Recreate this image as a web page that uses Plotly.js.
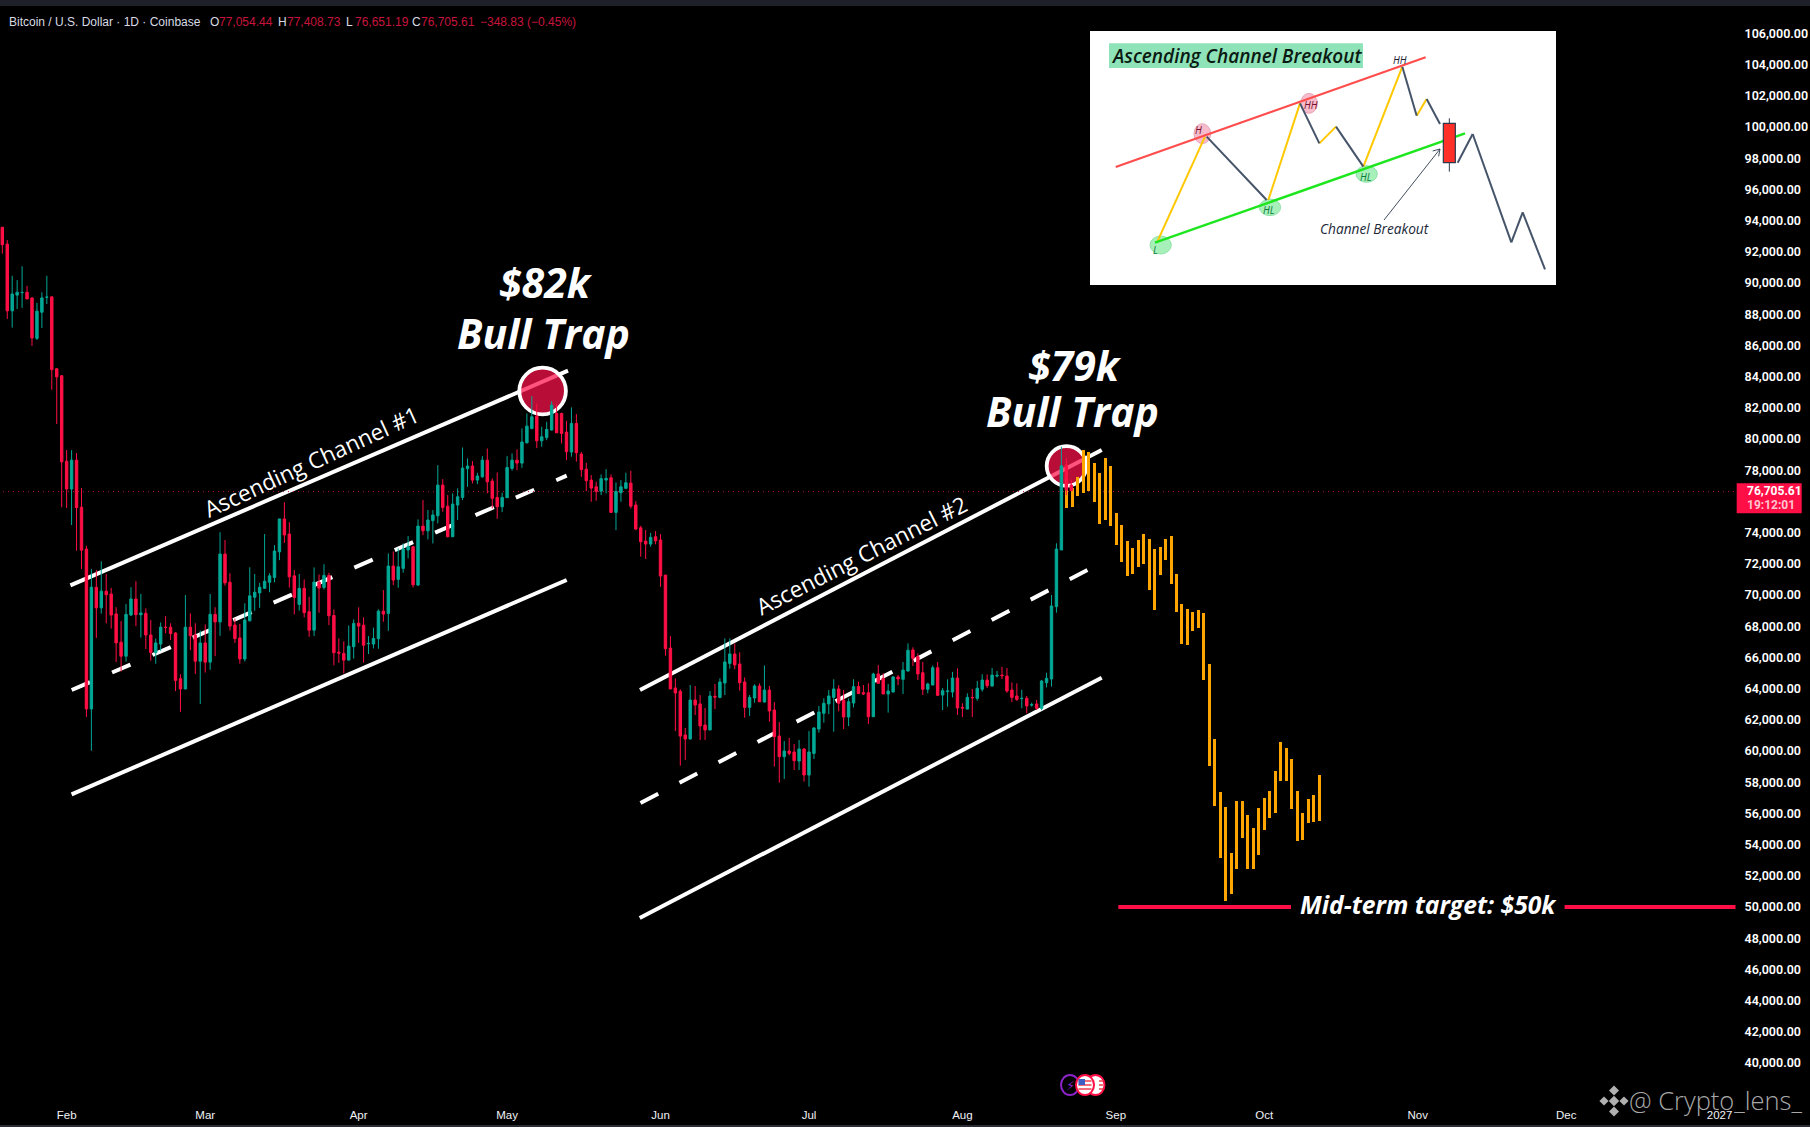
<!DOCTYPE html>
<html><head><meta charset="utf-8">
<script src="https://cdn.plot.ly/plotly-3.0.1.min.js"></script>
<style>html,body{margin:0;padding:0;background:#000}#c{width:1810px;height:1127px}</style>
</head><body><div id="c"></div>
<script>
// ---- data (USD thousands) ----
const opens=[93.58,92.50,88.22,89.23,89.39,89.41,89.05,86.46,88.13,89.09,
89.12,84.51,84.06,78.58,76.80,78.65,75.63,72.95,62.70,70.50,
69.18,70.25,70.07,68.79,66.98,66.08,68.72,69.75,68.74,68.83,
67.44,66.31,66.86,67.94,67.94,67.57,64.64,63.98,67.94,67.44,
65.76,66.93,65.70,68.76,68.28,72.63,70.82,68.08,67.25,65.90,
68.35,69.86,70.14,70.43,70.82,71.12,72.77,74.88,73.91,71.23,
69.40,70.43,68.93,67.75,70.83,70.49,71.26,68.69,66.34,66.26,
65.83,66.69,68.20,68.07,66.88,66.86,67.20,68.97,68.82,71.86,
71.00,71.71,72.89,73.10,70.64,74.42,74.12,74.77,75.08,77.05,
75.70,73.74,75.77,76.26,78.10,78.27,77.37,77.58,78.65,77.31,
76.26,75.66,76.24,78.12,78.65,78.46,79.76,80.68,81.47,79.89,
80.10,80.58,81.64,81.64,80.45,79.17,81.00,79.04,78.07,77.37,
76.94,76.66,77.37,77.52,75.30,76.56,76.84,77.18,75.77,74.31,
73.46,73.27,73.74,73.53,71.28,66.60,
64.04,63.83,61.03,60.77,63.27,63.02,61.67,61.35,
63.51,63.44,64.36,65.62,66.22,65.58,64.43,62.80,63.40,64.17,
63.14,63.91,62.63,60.96,59.64,60.00,59.94,59.36,60.13,58.46,
59.85,61.41,62.42,63.02,63.44,63.98,63.27,62.18,63.08,64.13,
63.74,63.74,62.20,64.94,64.66,63.66,63.78,64.75,64.60,65.13,
66.48,66.05,65.02,63.96,64.23,65.34,63.59,63.81,63.78,64.68,
62.80,62.69,63.44,63.38,63.96,64.55,64.17,64.81,64.87,64.81,
63.91,63.53,63.36,63.38,62.95,63.02,62.74,64.38,64.62,69.26,
72.89,78.34,77.05444];
const closes=[92.46,88.22,89.30,89.41,89.40,88.98,86.48,88.20,89.05,89.10,
84.45,83.99,78.54,76.80,78.65,75.61,72.88,62.70,70.50,69.18,
70.25,70.02,68.72,66.93,66.08,68.76,69.75,68.74,68.85,67.44,
66.31,66.93,67.94,67.92,67.53,64.53,63.98,67.94,67.39,65.76,
66.93,65.70,68.76,68.28,72.63,70.78,68.01,67.21,65.90,68.40,
69.95,70.18,70.50,70.89,71.23,72.82,74.88,73.85,71.17,69.84,
70.43,68.87,67.75,70.83,70.45,71.26,68.67,66.30,66.28,65.83,
66.73,68.18,68.01,66.79,66.90,67.22,68.97,68.78,71.86,70.96,
71.81,72.95,73.10,70.66,74.42,74.12,74.81,75.13,77.05,75.62,
73.74,75.83,76.30,78.14,78.27,77.37,77.63,78.65,77.26,76.20,
75.66,76.26,78.18,78.65,78.46,79.81,80.83,81.43,79.89,80.15,
80.62,82.18,80.40,80.36,79.19,81.00,79.12,78.05,77.33,76.86,
76.64,77.46,77.48,75.30,76.64,76.94,77.20,75.70,74.23,73.42,
73.27,73.70,73.48,71.22,66.56,63.98,
63.72,60.96,60.77,63.27,62.95,61.61,61.35,63.53,
63.46,64.43,65.71,66.22,65.52,64.38,62.80,63.44,64.17,63.16,
63.91,62.57,60.92,59.64,60.00,59.85,59.38,60.13,58.46,59.94,
61.48,62.50,63.06,63.53,63.98,63.06,62.18,63.16,64.13,63.68,
63.66,62.20,64.94,64.34,63.66,63.85,64.75,64.62,65.19,66.46,
65.94,64.94,63.96,64.30,65.34,63.57,63.87,63.85,64.68,62.76,
62.76,63.44,63.42,64.02,64.55,64.19,64.87,64.85,64.83,63.85,
63.44,63.31,63.38,62.89,62.97,62.74,64.49,64.66,69.30,72.95,
78.29,76.73,76.70561];
const highs=[93.58,92.76,90.47,90.19,91.08,89.83,89.09,88.73,89.41,90.47,
89.14,84.56,84.10,79.29,79.29,79.11,76.87,73.16,71.67,71.60,
72.17,71.35,70.46,69.22,68.33,69.43,70.50,70.89,70.07,69.15,
68.40,67.21,68.24,68.65,68.19,67.62,64.92,70.00,68.83,68.19,
67.73,68.12,70.07,69.22,74.03,73.53,71.40,68.49,68.15,69.47,
71.78,71.35,70.78,73.91,71.40,73.20,74.88,75.95,74.67,71.60,
71.35,71.00,69.89,71.77,71.32,71.98,71.43,69.08,67.22,67.03,
68.05,68.44,69.21,68.57,67.37,67.91,69.08,70.32,72.67,72.80,
72.99,73.31,73.78,73.10,74.85,76.09,75.45,75.45,78.33,77.43,
76.41,76.52,76.84,79.46,78.76,78.59,77.84,78.91,79.40,77.48,
77.86,76.56,78.91,79.08,79.34,80.68,81.64,82.75,82.28,80.79,
81.11,82.43,82.28,81.69,81.17,82.03,81.60,79.17,78.48,77.69,
77.26,77.73,78.07,77.73,77.22,77.37,77.84,77.97,76.02,74.44,
74.17,73.99,74.10,73.91,71.28,67.37,
64.66,63.96,61.48,64.23,64.17,63.59,62.76,63.85,
64.30,64.66,67.22,67.22,66.90,66.33,64.72,63.59,64.28,64.34,
65.49,64.17,63.14,61.86,60.64,60.84,60.45,60.71,60.19,61.28,
61.52,62.89,63.38,63.91,64.60,64.23,63.91,63.38,64.60,64.45,
64.23,64.34,65.02,65.52,64.98,64.30,64.81,64.87,65.71,66.90,
66.65,66.26,65.71,64.38,65.49,65.71,64.04,64.60,65.07,65.30,
63.06,63.70,63.98,64.49,64.92,64.92,65.32,65.13,65.39,65.32,
64.40,64.34,63.93,63.53,63.10,63.27,64.55,65.02,70.00,73.32,
79.51,78.76,77.40873];
const lows=[91.89,87.70,87.15,88.34,88.41,88.98,85.98,86.35,87.12,88.66,
83.16,80.97,75.63,75.58,74.49,72.84,71.67,62.19,60.02,67.25,
68.81,68.19,67.85,65.70,65.10,65.74,68.65,68.01,67.27,66.54,
65.79,65.60,66.43,67.55,67.12,63.84,62.51,63.96,66.47,64.94,
63.02,65.03,65.21,66.08,67.39,70.60,67.73,66.93,65.60,65.74,
68.31,69.00,69.18,70.41,70.18,70.82,72.24,73.34,70.48,68.76,
69.00,68.57,67.33,67.37,68.87,70.36,68.07,65.49,65.66,64.98,
65.79,65.92,66.94,65.66,66.22,66.58,66.56,68.29,67.71,70.64,
70.47,71.43,72.35,70.49,70.58,73.84,73.57,73.31,74.59,75.34,
73.70,73.74,74.81,76.09,76.94,77.16,77.11,77.52,76.52,75.55,
74.89,75.32,76.24,77.97,78.01,78.16,79.72,80.62,79.42,79.51,
79.93,80.53,80.40,79.72,78.65,78.87,78.55,77.58,76.66,75.98,
76.05,76.41,76.52,75.28,74.16,75.98,76.84,75.55,74.16,72.46,
72.31,73.10,73.25,70.53,66.11,63.98,
61.28,59.06,59.43,60.75,62.31,60.71,60.71,61.35,
62.69,63.38,63.59,65.28,65.24,63.87,62.14,62.25,63.10,63.16,
63.12,61.88,59.00,57.97,58.21,59.72,58.78,58.78,58.04,57.72,
59.49,61.18,61.82,62.37,61.24,62.55,61.41,61.60,62.80,63.66,
63.59,61.73,62.20,64.34,63.66,62.46,63.78,64.23,63.66,65.09,
65.45,64.55,63.59,63.70,64.23,63.53,62.63,62.84,63.44,62.31,
62.18,62.69,62.18,63.23,63.81,64.04,64.13,64.72,64.62,63.74,
63.14,63.21,62.74,62.42,62.84,62.63,62.63,64.08,64.13,68.87,
72.89,76.41,76.65119];
// projected orange bars pattern: day offset from first candle, high and low
const barDays=[215,216.2,217.2,218.44,219.45,220.66,221.67,222.88,223.89,225.1,226.11,227.33,228.34,229.55,230.56,231.77,232.78,234,235,236.22,237.23,238.24,239.45,240.46,241.67,242.68,243.9,244.91,246.12,247.13,248.34,249.35,250.56,251.57,252.79,253.8,255.01,256.02,257.23,258.24,259.45,260.46,261.68,262.69,263.9,264.91,266.12];
const barHighs=[77.48,76.84,77.59,79.30,79.15,78.44,77.80,78.76,78.27,75.24,74.47,73.44,72.99,73.51,73.89,73.57,72.93,73.06,73.57,73.76,71.33,69.40,69.08,68.89,69.02,68.83,65.56,60.75,57.35,56.39,53.44,56.78,56.78,55.88,55.05,56.33,56.97,57.42,58.70,60.56,60.17,59.47,57.42,56.01,56.91,57.16,58.44];
const barLows=[75.56,75.62,76.37,76.56,76.67,75.99,74.58,74.81,74.45,73.23,72.14,71.24,71.37,71.82,72.01,70.33,69.06,71.31,72.27,70.73,68.93,66.88,66.82,67.72,67.89,64.58,59.06,56.50,53.17,50.41,50.86,52.46,54.45,52.46,52.46,53.36,54.96,55.73,56.05,58.10,58.10,56.31,54.26,54.32,55.41,55.47,55.54];
const monthTicks=['2026-02-01','2026-03-01','2026-04-01','2026-05-01','2026-06-01','2026-07-01','2026-08-01','2026-09-01','2026-10-01','2026-11-01','2026-12-01','2027-01-01'];
const monthLabels=['Feb','Mar','Apr','May','Jun','Jul','Aug','Sep','Oct','Nov','Dec','2027'];
const priceTicks=[40,42,44,46,48,50,52,54,56,58,60,62,64,66,68,70,72,74,78,80,82,84,86,88,90,92,94,96,98,100,102,104,106];
const lastPrice=76705.61, targetPrice=50000;

// ---- page scales: reference pixel -> axis/paper value ----
const W=1810,H=1127,PW=1738,PH=1098;
const RED='#ff0f45',GREEN='#00a896',ORANGE='#ffa500';
const T0=Date.UTC(2026,0,19),DAY=864e5;
const dayDate=d=>new Date(T0+d*DAY).toISOString().slice(0,19).replace('T',' ');
const pxDay=x=>(x-2.3)/4.949;
const dx=x=>dayDate(pxDay(x));
const dy=y=>40000+(1063-y)/0.015598;
const usd=a=>a.map(v=>Math.round(v*1e5)/1e2);
const px=x=>x/PW, py=y=>1-y/PH;

const dates=opens.map((_,i)=>dayDate(i));

const shapes=[];
function tl(x0,y0,x1,y1,color,width,dash){
  shapes.push({type:'line',xref:'x',yref:'y',layer:'below',x0:dx(x0),y0:dy(y0),x1:dx(x1),y1:dy(y1),line:{color:color,width:width,dash:dash||'solid'}});
}
// channels
tl(70.4,585.4,568,370.7,'#fff',4);
tl(71.7,690,566.7,475.7,'#fff',4,'20px,24px');
tl(71.6,794.4,566.7,580,'#fff',4);
tl(640,690,1101.7,450,'#fff',4);
tl(640.5,803,1087.5,570,'#fff',4,'20px,24px');
tl(639.7,918,1101.7,677.7,'#fff',4);
// last price dotted
tl(3,491.6,1737,491.6,'#b5173c',1,'1px,4px');
// bull trap circles
[[542.6,391,23.3],[1066.5,466,19.8]].forEach(c=>{
  shapes.push({type:'circle',layer:'below',xref:'x',yref:'y',xsizemode:'pixel',ysizemode:'pixel',xanchor:dx(c[0]),yanchor:dy(c[1]),x0:-c[2],x1:c[2],y0:-c[2],y1:c[2],fillcolor:'rgba(255,18,75,0.72)',line:{color:'#fff',width:3.8}});
});
// target line
shapes.push({type:'line',xref:'x',yref:'y',layer:'below',x0:dx(1118.3),x1:dx(1291),y0:targetPrice,y1:targetPrice,line:{color:RED,width:4}});
shapes.push({type:'line',xref:'x',yref:'y',layer:'below',x0:dx(1564.6),x1:dx(1735.5),y0:targetPrice,y1:targetPrice,line:{color:RED,width:4}});

// paper helpers (reference pixels)
function pRect(x0,y0,x1,y1,fill,lc,lw){shapes.push({type:'rect',xref:'paper',yref:'paper',layer:'above',x0:px(x0),x1:px(x1),y0:py(y0),y1:py(y1),fillcolor:fill,line:{color:lc||fill,width:lw===undefined?0:lw}});}
function pLine(x0,y0,x1,y1,c,w){shapes.push({type:'line',xref:'paper',yref:'paper',layer:'above',x0:px(x0),x1:px(x1),y0:py(y0),y1:py(y1),line:{color:c,width:w}});}
function pEll(cx,cy,rx,ry,fill,lc,lw){shapes.push({type:'circle',xref:'paper',yref:'paper',layer:'above',x0:px(cx-rx),x1:px(cx+rx),y0:py(cy-ry),y1:py(cy+ry),fillcolor:fill,line:{color:lc,width:lw}});}
function pPoly(pts,fill){const d=pts.map((p,i)=>(i?'L':'M')+px(p[0]).toFixed(5)+','+py(p[1]).toFixed(5)).join(' ')+' Z';shapes.push({type:'path',xref:'paper',yref:'paper',layer:'above',path:d,fillcolor:fill,line:{width:0}});}

// top band, bottom band, price tag
pRect(0,0,W,6,'#1e2029');
pRect(0,1125,W,1127,'#2a2c33');
pRect(1736.7,483.3,1801.7,513.3,RED);

// inset (its own pixel grid at 3x from origin 1080,25)
const ix=z=>1080+z/3, iy=z=>25+z/3;
pRect(1090,31,1556,285,'#fff');
pRect(ix(87),iy(55),ix(849),iy(129),'#8fe3b8');
const insetEllipses=[[242,660,32,27,'#a8f0ba','#7fdc9a'],[570,547,32,25,'#a8f0ba','#7fdc9a'],[860,447,32,25,'#a8f0ba','#7fdc9a'],[367,326,25,30,'#f6bccb','#e49ab0'],[687,235,25,30,'#f6bccb','#e49ab0']];
insetEllipses.forEach(e=>pEll(ix(e[0]),iy(e[1]),e[2]/3,e[3]/3,e[4],e[5],0.8));
const insetGold=[[232,650,375,335],[565,525,660,235],[718,355,768,305],[850,425,967,125],[1010,272,1040,222]];
const insetSlate=[[380,335,560,525],[660,235,718,355],[768,305,850,425],[967,125,1010,272],[1040,222,1080,297],[1133,413,1178,327],[1178,327,1294,652],[1294,652,1328,562],[1328,562,1395,733]];
insetGold.forEach(l=>pLine(ix(l[0]),iy(l[1]),ix(l[2]),iy(l[3]),'#ffc800',2));
insetSlate.forEach(l=>pLine(ix(l[0]),iy(l[1]),ix(l[2]),iy(l[3]),'#46546a',2));
pLine(ix(107),iy(426),ix(1037),iy(97),'#ff4d4d',2.2);
pLine(ix(225),iy(653),ix(1155),iy(325),'#1ee61e',2.4);
pLine(ix(1108),iy(280),ix(1108),iy(440),'#2c3a4c',1);
pRect(ix(1090),iy(295),ix(1126),iy(413),'#ff3028','#2c3a4c',1.2);
pLine(ix(912),iy(585),ix(1080),iy(372),'#2c3a4c',0.9);
pLine(ix(1080),iy(372),ix(1058),iy(378),'#2c3a4c',0.9);
pLine(ix(1080),iy(372),ix(1076),iy(394),'#2c3a4c',0.9);

// event icons
pEll(1070,1085,9,10,'#000','#8a24c8',2);
pEll(1095.5,1085,9,10,'#fff',RED,2);
pEll(1085,1085,9,10,'#fff',RED,2);
[1081,1085,1089].forEach(y=>{pLine(1078.5,y,1091.5,y,'#f04a5a',1.6);pLine(1099,y,1103,y,'#f04a5a',1.6);});
pRect(1078.5,1079,1085,1085,'#3d5fc4');

// watermark logo
[[1614,1101,5.2],[1614,1090.5,5],[1614,1111.5,5],[1604,1101,4.6],[1624,1101,4.6]].forEach(d=>{
  pPoly([[d[0],d[1]-d[2]],[d[0]+d[2],d[1]],[d[0],d[1]+d[2]],[d[0]-d[2],d[1]]],'#b0b0b0');
});

// texts
const anns=[];
function txt(x,y,t,size,color,opt){opt=opt||{};anns.push({xref:'paper',yref:'paper',x:px(x),y:py(y),text:t,showarrow:false,xanchor:opt.a||'center',yanchor:'middle',textangle:opt.r||0,
  font:{family:opt.f||'Open Sans',size:size,color:color,weight:opt.w||400,style:opt.s||'normal'}});}
txt(546,282,'$82k',41,'#fff',{w:700,s:'italic'});
txt(543,333,'Bull Trap',41,'#fff',{w:700,s:'italic'});
txt(1074.5,365,'$79k',41,'#fff',{w:700,s:'italic'});
txt(1072,411,'Bull Trap',41,'#fff',{w:700,s:'italic'});
txt(311.8,461.9,'Ascending Channel #1',22.5,'#fff',{r:-24.7});
txt(861,555.4,'Ascending Channel #2',22.5,'#fff',{r:-27});
txt(1428,904,'Mid-term target: $50k',24.7,'#fff',{w:700,s:'italic'});
// header
const L={f:'Liberation Sans',a:'left'};
txt(7,22,'Bitcoin / U.S. Dollar · 1D · Coinbase',12,'#d8dbe3',L);
[[208,'O',77054.44],[275.5,'H',77408.73],[343.7,'L',76651.19],[409.5,'C',76705.61]].forEach(h=>{
  txt(h[0],22,h[1],12,'#d8dbe3',L);
  txt(h[0]+9,22,h[2].toLocaleString('en-US',{minimumFractionDigits:2}),12,'#c8143c',L);
});
txt(477.6,22,'−348.83 (−0.45%)',12,'#c8143c',L);
// price tag
txt(1745,490.5,'76,705.61',12,'#fff',{f:'Roboto',a:'left',w:700});
txt(1745,505,'19:12:01',12,'#ffc4d0',{f:'Roboto',a:'left',w:700});
// inset text
txt(ix(468),iy(92),'Ascending Channel Breakout',19,'#0a1a12',{w:600,s:'italic'});
txt(ix(882),iy(610),'Channel Breakout',13.7,'#1c2838',{s:'italic'});
const insetLabels=[['H',355,315,'#7a1030'],['HH',692,240,'#7a1030'],['HH',960,105,'#1a2030'],['HL',567,556,'#0a7a3a'],['HL',857,455,'#0a7a3a'],['L',226,675,'#0a7a3a']];
insetLabels.forEach(l=>txt(ix(l[1]),iy(l[2]),l[0],10,l[3],{s:'italic'}));
// icons text and watermark
txt(1070,1085,'⚡',13,'#8a24c8',{f:'DejaVu Sans'});
txt(1716,1100,'@ Crypto_lens_',25.5,'#a8a8a8',{f:'Open Sans',w:300});

const traces=[
 {type:'bar',x:barDays.map(dayDate),y:barHighs.map((h,i)=>(h-barLows[i])*1000),base:barLows.map(v=>v*1000),width:0.68*DAY,marker:{color:ORANGE,line:{width:0}},hoverinfo:'skip'},
 {type:'candlestick',x:dates,open:usd(opens),high:usd(highs),low:usd(lows),close:usd(closes),whiskerwidth:0,
  increasing:{line:{color:GREEN,width:1},fillcolor:GREEN},decreasing:{line:{color:RED,width:1},fillcolor:RED},hoverinfo:'skip'}
];
const layout={
 width:W,height:H,paper_bgcolor:'#000',plot_bgcolor:'#000',showlegend:false,
 margin:{l:0,r:W-PW,t:0,b:H-PH,pad:0},
 xaxis:{type:'date',range:[dayDate(pxDay(0)),dayDate(pxDay(PW))],rangeslider:{visible:false},showgrid:false,zeroline:false,showline:false,
  tickmode:'array',tickvals:monthTicks,ticktext:monthLabels,ticks:'outside',ticklen:6,tickcolor:'rgba(0,0,0,0)',tickangle:0,
  tickfont:{family:'Liberation Sans',size:11.5,color:'#f0f2f6'},fixedrange:true},
 yaxis:{side:'right',range:[dy(PH),dy(0)],showgrid:false,zeroline:false,showline:false,
  tickmode:'array',tickvals:priceTicks.map(v=>v*1000),tickformat:',.2f',ticks:'outside',ticklen:3,tickcolor:'rgba(0,0,0,0)',
  tickfont:{family:'Roboto',size:12.5,color:'#ffffff',weight:600},fixedrange:true},
 shapes:shapes,annotations:anns,bargap:0
};
Plotly.newPlot('c',traces,layout,{staticPlot:true,displayModeBar:false});
</script></body></html>
